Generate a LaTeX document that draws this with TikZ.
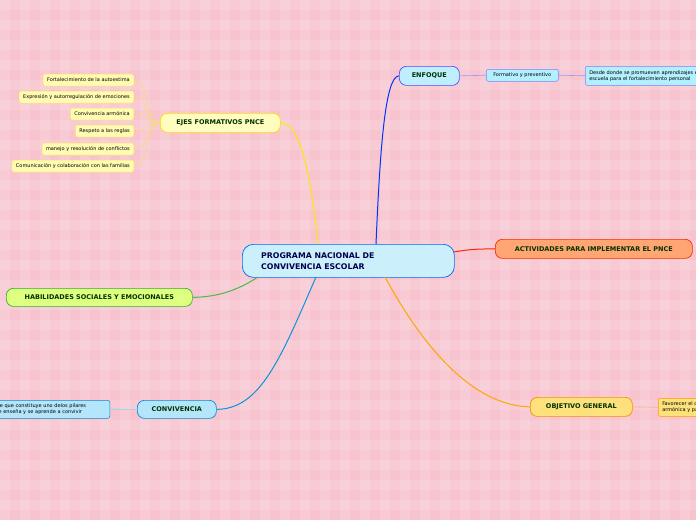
\documentclass[tikz,border=0pt]{standalone}
\usepackage{fontspec}
\setmainfont{DejaVu Sans}
\begin{document}
\begin{tikzpicture}[x=1pt,y=-1pt,
 main/.style={rounded corners=7pt,draw,line width=0.7pt,font=\bfseries\fontsize{6.5}{7}\selectfont,text=black!80!green,inner sep=0pt,anchor=north west},
 leaf/.style={rounded corners=2pt,draw,line width=0.5pt,font=\fontsize{5}{5.8}\selectfont,inner sep=0pt,anchor=north west,align=left},
 con/.style={line width=1pt}]
\definecolor{bg}{HTML}{F6C3CF}
\useasboundingbox (0,0) rectangle (696,520);
\clip (0,0) rectangle (696,520);
\fill[bg] (0,0) rectangle (696,520);
\foreach \i in {0,20,...,680} {\fill[white,opacity=0.12] (\i,0) rectangle (\i+10,520);}
\foreach \j in {0,20,...,500} {\fill[white,opacity=0.12] (0,\j) rectangle (696,\j+10);}
% center
\node[rounded corners=11pt,draw=blue!60!cyan,line width=0.7pt,fill=cyan!20,minimum width=212pt,minimum height=33pt,anchor=north west,inner sep=0pt] (c) at (242,244) {};
\node[anchor=west,align=left,inner sep=0pt,font=\bfseries\fontsize{7.8}{11}\selectfont,text=blue!30!black] (ct) at (261,261) {PROGRAMA NACIONAL DE\\CONVIVENCIA ESCOLAR};
% mains
\node[main,draw=blue!70,fill=blue!25!cyan!25,minimum width=60pt,minimum height=19pt] (enf) at (399,66) {ENFOQUE};
\node[leaf,draw=blue!50,fill=blue!20!cyan!30,minimum width=72pt,minimum height=12pt,align=center] (fp) at (486,69) {Formativo y preventivo};
\node[leaf,draw=blue!50,fill=blue!20!cyan!30,minimum width=140pt,minimum height=19pt,inner xsep=4pt,text width=132pt] (dd) at (585,66) {Desde donde se promueven aprendizajes en la\\escuela para el fortalecimiento personal};
\node[main,draw=red!70!orange,fill=orange!40!pink,minimum width=197pt,minimum height=19pt] (act) at (495,239) {ACTIVIDADES PARA IMPLEMENTAR EL PNCE};
\node[main,draw=orange!90!yellow,fill=yellow!60!orange!50,minimum width=102pt,minimum height=19pt] (obj) at (530,397) {OBJETIVO GENERAL};
\node[leaf,draw=orange!80!yellow,fill=yellow!60!orange!50,minimum width=80pt,minimum height=18pt,inner xsep=4pt,text width=72pt] (fav) at (658,398) {Favorecer el clima\\armónica y pacífico};
\node[main,draw=cyan!70!blue,fill=cyan!30,minimum width=79pt,minimum height=18pt] (conv) at (137,400) {CONVIVENCIA};
\node[leaf,draw=cyan!70!blue,fill=cyan!30,minimum width=135pt,minimum height=18pt,inner xsep=4pt,text width=127pt,align=left,anchor=north east] (ce) at (110,400) {Ambiente que constituye uno delos pilares\\donde se enseña y se aprende a convivir};
\node[main,draw=green!60!black!80,fill=lime!50,minimum width=186pt,minimum height=18pt] (hab) at (6,288) {HABILIDADES SOCIALES Y EMOCIONALES};
\node[main,draw=yellow!80!orange,fill=yellow!25,minimum width=120pt,minimum height=19pt] (ejes) at (160,113) {EJES FORMATIVOS PNCE};
\foreach \n/\y/\t in {l1/80/Fortalecimiento de la autoestima, l2/97/Expresión y autorregulación de emociones, l3/114/Convivencia armónica, l4/131/Respeto a las reglas, l5/149/manejo y resolución de conflictos, l6/166/Comunicación y colaboración con las familias}{
 \node[leaf,draw=yellow!70!orange!60,fill=yellow!30,anchor=east,minimum height=12pt,inner xsep=4pt] (\n) at (134,\y) {\t};
 \draw[yellow!60!orange!60,line width=0.5pt] (\n.east) .. controls (150,\y) and (145,123) .. (ejes.west);
}
% connectors
\draw[con,blue!80!cyan] (376,244) .. controls (380,150) and (385,76) .. (enf.west);
\draw[blue!40,line width=0.6pt] (enf.east) -- (fp.west);
\draw[blue!40,line width=0.6pt] (fp.east) -- (dd.west);
\draw[con,yellow!90!orange] (318,244) .. controls (310,170) and (300,123) .. (ejes.east);
\draw[con,green!60!black!70] (258,277) .. controls (235,292) and (215,297) .. (hab.east);
\draw[con,cyan!80!blue] (316,277) .. controls (280,360) and (260,409) .. (conv.east);
\draw[cyan!50,line width=0.6pt] (conv.west) -- (ce.east);
\draw[con,orange!70!yellow] (385,277) .. controls (430,360) and (480,406) .. (obj.west);
\draw[orange!60,line width=0.6pt] (obj.east) -- (fav.west);
\draw[con,red!70!orange] (454,252) .. controls (470,249) and (480,249) .. (act.west);
\end{tikzpicture}
\end{document}
